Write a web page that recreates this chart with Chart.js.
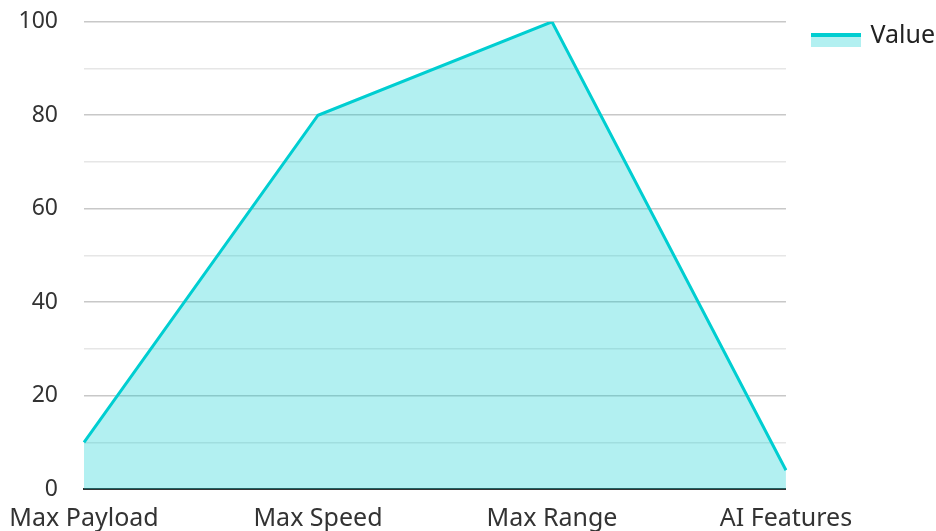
<!DOCTYPE html>
<html>
<head>
<meta charset="utf-8">
<script src="https://cdn.jsdelivr.net/npm/chart.js@4"></script>
<style>
  html, body { margin: 0; padding: 0; background: #fff; }
  #wrap { width: 936px; height: 531px; }
</style>
</head>
<body>
<div id="wrap"><canvas id="chart"></canvas></div>
<script>
// données
const categories = ['Max Payload', 'Max Speed', 'Max Range', 'AI Features']
const values = [10, 80, 100, 4]
const seriesLabel = 'Value'

const lineColor = 'rgb(0, 206, 209)'
const fillColor = 'rgba(0, 206, 209, 0.3)'

// icône de légende : trait en haut + aplat (décalée vers le bas)
const icon = document.createElement('canvas')
icon.width = 50
icon.height = 23
const ictx = icon.getContext('2d')
ictx.fillStyle = fillColor
ictx.fillRect(0, 9, 50, 14)
ictx.fillStyle = lineColor
ictx.fillRect(0, 9, 50, 4)

Chart.defaults.font.family = '"Noto Sans", sans-serif'
Chart.defaults.font.size = 23
Chart.defaults.color = '#333'

new Chart(document.getElementById('chart'), {
  type: 'line',
  data: {
    labels: categories,
    datasets: [
      {
        label: seriesLabel,
        data: values,
        borderColor: lineColor,
        backgroundColor: fillColor,
        borderWidth: 3,
        fill: 'origin',
        pointRadius: 0,
        tension: 0,
      },
    ],
  },
  options: {
    responsive: true,
    maintainAspectRatio: false,
    animation: false,
    layout: { padding: { top: -5, right: -9, left: 0, bottom: -18 } },
    scales: {
      x: {
        offset: false,
        grid: { display: false, drawTicks: false },
        border: { display: true, color: '#333', width: 2 },
        ticks: { padding: 15, maxRotation: 0, autoSkip: false, font: { size: 25 } },
        // marge gauche = demi-largeur du premier libellé
        afterFit: (scale) => {
          scale.paddingLeft = 84
        },
      },
      y: {
        min: 0,
        max: 100,
        grid: {
          drawTicks: true,
          tickLength: 18,
          tickColor: 'rgba(0,0,0,0)',
          color: (ctx) => (ctx.tick && ctx.tick.value % 20 === 0 ? '#c8c8c8' : '#e6e6e6'),
          lineWidth: 1.5,
        },
        border: { display: false },
        ticks: {
          stepSize: 10,
          padding: 8,
          font: { size: 23 },
          callback: (v) => (v % 20 === 0 ? v : ''),
        },
      },
    },
    plugins: {
      legend: {
        display: true,
        position: 'right',
        align: 'start',
        labels: {
          usePointStyle: true,
          pointStyle: icon,
          pointStyleWidth: 44,
          padding: 28,
          color: '#222',
          font: { size: 25 },
        },
      },
      tooltip: { enabled: false },
    },
  },
})
</script>
</body>
</html>
